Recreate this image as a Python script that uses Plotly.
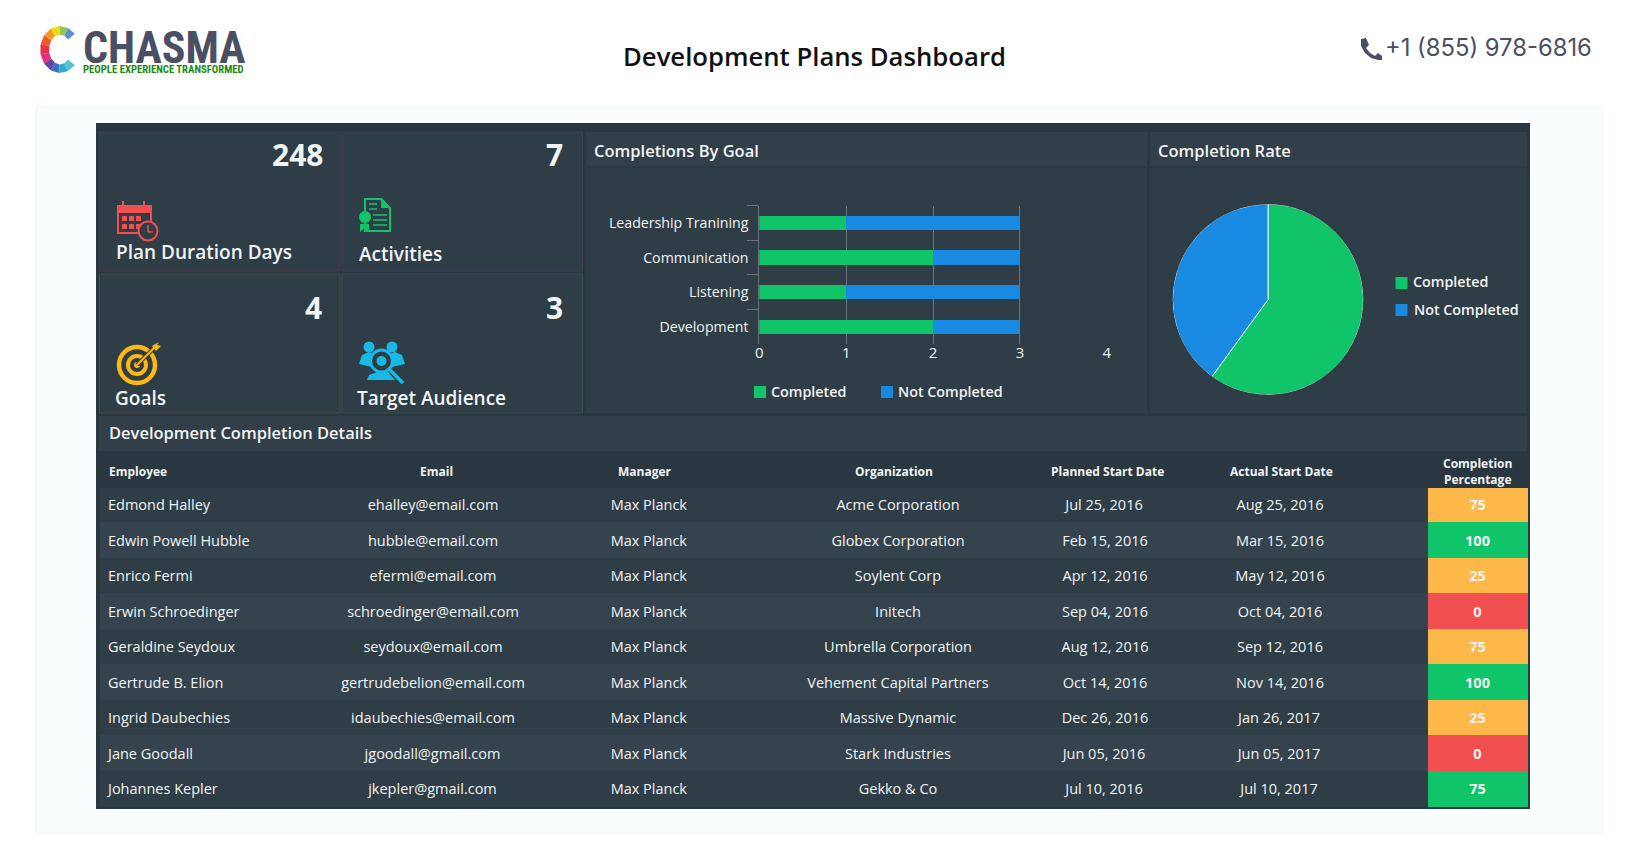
# -*- coding: utf-8 -*-
import math
import plotly.graph_objects as go

W, H = 1627, 860

# ===============================================================
# Data
# ===============================================================

GOALS = ["Leadership Tranining", "Communication", "Listening", "Development"]
GOAL_COMPLETED = [1, 2, 1, 2]
GOAL_NOT_COMPLETED = [2, 1, 2, 1]

RATE_LABELS = ["Completed", "Not Completed"]
RATE_VALUES = [60, 40]

KPI_VALUES = ["248", "7", "4", "3"]
KPI_LABELS = ["Plan Duration Days", "Activities", "Goals", "Target Audience"]

TABLE_HEADERS = ["Employee", "Email", "Manager", "Organization", "Planned Start Date",
                 "Actual Start Date", "Completion<br>Percentage"]
EMPLOYEES = ["Edmond Halley", "Edwin Powell Hubble", "Enrico Fermi", "Erwin Schroedinger",
             "Geraldine Seydoux", "Gertrude B. Elion", "Ingrid Daubechies", "Jane Goodall",
             "Johannes Kepler"]
EMAILS = ["ehalley@email.com", "hubble@email.com", "efermi@email.com", "schroedinger@email.com",
          "seydoux@email.com", "gertrudebelion@email.com", "idaubechies@email.com",
          "jgoodall@gmail.com", "jkepler@gmail.com"]
MANAGERS = ["Max Planck"] * 9
ORGANIZATIONS = ["Acme Corporation", "Globex Corporation", "Soylent Corp", "Initech",
                 "Umbrella Corporation", "Vehement Capital Partners", "Massive Dynamic",
                 "Stark Industries", "Gekko & Co"]
PLANNED_START = ["Jul 25, 2016", "Feb 15, 2016", "Apr 12, 2016", "Sep 04, 2016", "Aug 12, 2016",
                 "Oct 14, 2016", "Dec 26, 2016", "Jun 05, 2016", "Jul 10, 2016"]
ACTUAL_START = ["Aug 25, 2016", "Mar 15, 2016", "May 12, 2016", "Oct 04, 2016", "Sep 12, 2016",
                "Nov 14, 2016", "Jan 26, 2017", "Jun 05, 2017", "Jul 10, 2017"]
COMPLETION_PCT = [75, 100, 25, 0, 75, 100, 25, 0, 75]
PCT_STATUS = ["amber", "green", "amber", "red", "amber", "green", "amber", "red", "green"]

# ===============================================================
# Palette
# ===============================================================

palette = {"outer": "#2a3741", "card": "#2f3d47", "panel": "#323f49", "head": "#2b3740",
           "row_a": "#2f3d46", "row_b": "#34434d", "line": "#29353e", "grid": "#69757d",
           "text": "#f1f4f5", "slate": "#4a4f63", "frame": "#f9fdfe", "frame_line": "#eef2f4",
           "green": "#10c469", "blue": "#188ae2", "red": "#f25050", "amber": "#fdb849",
           "gold": "#fdb813", "cyan": "#19b9e6"}
FONT = "Open Sans"
NARROW = "Roboto Condensed, Noto Sans Condensed, DejaVu Sans Condensed, Roboto, sans-serif"

# ===============================================================
# Helpers (all positions in screen pixels, y downwards)
# ===============================================================

def px(x):
    return x / W


def py(y):
    return 1 - y / H


shapes = []
annotations = []


def rect(x0, y0, x1, y1, fill, line=None, width=1):
    shapes.append(dict(type="rect", xref="paper", yref="paper", layer="below",
                       x0=px(x0), x1=px(x1), y0=py(y0), y1=py(y1), fillcolor=fill,
                       line=dict(color=line or fill, width=width if line else 0)))


def circle(cx, cy, r, fill, line=None, width=1, layer="below"):
    shapes.append(dict(type="circle", xref="paper", yref="paper", layer=layer,
                       x0=px(cx - r), x1=px(cx + r), y0=py(cy - r), y1=py(cy + r), fillcolor=fill,
                       line=dict(color=line or fill, width=width if line else 0)))


def seg(x0, y0, x1, y1, color, width=2):
    shapes.append(dict(type="line", xref="paper", yref="paper", layer="below",
                       x0=px(x0), x1=px(x1), y0=py(y0), y1=py(y1), line=dict(color=color, width=width)))


def poly(points, fill):
    path = "M" + " L".join(f"{px(x):.5f},{py(y):.5f}" for x, y in points) + " Z"
    shapes.append(dict(type="path", xref="paper", yref="paper", layer="below", path=path,
                       fillcolor=fill, line=dict(width=0)))


def label(x, y, text, size, color=None, anchor="left", weight=400, family=FONT, align="center"):
    annotations.append(dict(xref="paper", yref="paper", x=px(x), y=py(y), text=text, showarrow=False,
                            xanchor=anchor, yanchor="middle", borderpad=0, borderwidth=0, align=align,
                            font=dict(family=family, size=size, color=color or palette["text"], weight=weight)))


def legend_item(x, y, text, color, text_x):
    rect(x, y - 6, x + 12, y + 6, color)
    label(text_x, y - 1, text, 14.3, weight=600)


# ===============================================================
# Page furniture: frame, panels, header
# ===============================================================

rect(36.5, 107, 1602, 833, palette["frame"], palette["frame_line"], 1)
rect(96, 123, 1530, 809, palette["outer"])

for x0, y0, x1, y1, edge in [(99.5, 132, 340, 271, "#4a3a48"), (342, 132, 582.5, 271, "#3f3f5a"),
                             (99.5, 274, 340, 413, "#4c4a3e"), (342, 274, 582.5, 413, "#35514c")]:
    rect(x0, y0, x1, y1, palette["card"], edge, 1)

rect(586, 132, 1147, 413, palette["card"])
rect(586, 132, 1147, 167, palette["panel"])
seg(586, 167, 1147, 167, palette["line"], 1)
rect(1150, 132, 1527, 413, palette["card"])
rect(1150, 132, 1527, 167, palette["panel"])
seg(1150, 167, 1527, 167, palette["line"], 1)
rect(99, 416, 1527, 451, palette["panel"])

label(623, 57, "Development Plans Dashboard", 25.7, "#111111", weight=600)
label(1385, 47.5, "+1 (855) 978-6816", 23.8, palette["slate"], family="Inter")
label(594, 150.5, "Completions By Goal", 16.5, weight=600)
label(1158, 150.5, "Completion Rate", 16.5, weight=600)
label(109, 433, "Development Completion Details", 16.5, weight=600)

# table headers sit on the empty header row of the table trace, the cell padding there is fixed
for text, hx in zip(TABLE_HEADERS[1:], [436, 645, 894.5, 1107, 1281, 1477]):
    label(hx, 471 if "<br>" not in text else 471.5, f"<b>{text}</b>", 12, anchor="center")
label(109, 471, f"<b>{TABLE_HEADERS[0]}</b>", 12)

# phone glyph
poly([(1361, 39), (1366, 38), (1369, 45), (1366, 48), (1370, 53), (1375, 56), (1378, 53), (1382, 56),
      (1382, 60), (1378, 60), (1371, 58), (1365, 53), (1361, 46)], palette["slate"])

# logo: rainbow ring with the wordmark next to it
LOGO_COLORS = ["#5b8fd6", "#8fc951", "#f5d90a", "#f59a23", "#ee5a2b", "#e3344b", "#e52e7f",
               "#6a3fb0", "#3f6fc0", "#2fa9c9", "#56c2c9"]
steps = len(LOGO_COLORS)
for i, colour in enumerate(LOGO_COLORS):
    a0 = math.radians(42 + i * (276 / steps))
    a1 = math.radians(42 + (i + 1) * (276 / steps))
    poly([(60 + 20 * math.cos(a0), 49.5 - 23.5 * math.sin(a0)),
          (60 + 20 * math.cos(a1), 49.5 - 23.5 * math.sin(a1)),
          (60 + 11 * math.cos(a1), 49.5 - 15 * math.sin(a1)),
          (60 + 11 * math.cos(a0), 49.5 - 15 * math.sin(a0))], colour)
# one text block: the small base size sets the tight gap between the two lines
label(83, 49,
      f'<span style="font-size:44px;color:{palette["slate"]}">CHASMA</span><br>'
      '<span style="font-size:10.7px;color:#1d8a12">PEOPLE EXPERIENCE TRANSFORMED</span>',
      8, weight=700, family=NARROW, align="left")

# ===============================================================
# KPI cards
# ===============================================================

for text, rx, vy in zip(KPI_VALUES, [323, 563, 322, 563], [154.5, 154.5, 308, 308]):
    label(rx, vy, text, 30, anchor="right", weight=700)
for text, lx, ly in zip(KPI_LABELS, [116, 359, 115, 357], [252, 254, 398, 398]):
    label(lx, ly, text, 19, weight=600)

# calendar icon
c = palette["red"]
rect(118, 206, 151, 233, palette["card"], c, 2)
rect(118, 205, 151, 213, c)
seg(123, 201, 123, 208, c, 2)
seg(144, 201, 144, 208, c, 2)
for gx in (122, 129, 136):
    for gy in (216, 224):
        rect(gx, gy, gx + 5, gy + 5, c)
circle(148, 231, 9.5, palette["card"], c, 2)
seg(148, 225, 148, 232, c, 1.5)
seg(148, 232, 153, 232, c, 1.5)

# document icon
c = palette["green"]
poly([(364, 198), (382, 198), (391, 208), (391, 232), (364, 232)], c)
poly([(366, 200), (380, 200), (389, 209), (389, 230), (366, 230)], palette["card"])
poly([(381, 198), (391, 208), (381, 208)], c)
for ly0, x0, x1 in [(204, 369, 377), (209, 369, 377), (215, 373, 387), (220, 373, 387), (225, 373, 387)]:
    seg(x0, ly0, x1, ly0, c, 1.5)
circle(365, 217, 6, c)
poly([(360, 224), (369, 224), (369, 232), (364.5, 228), (360, 232)], c)

# target icon
c = palette["gold"]
circle(137, 365, 18, palette["card"], c, 4.5)
circle(137, 365, 9, palette["card"], c, 4)
circle(137, 365, 3, c)
seg(137, 365, 155, 347, palette["card"], 4)
seg(137, 365, 155, 347, c, 2)
poly([(152, 346), (159, 342), (157, 345), (161, 346), (156, 351)], c)

# people + magnifier icon
c = palette["cyan"]
for hx in (369, 392):
    circle(hx, 347, 5.5, c)
poly([(359, 364), (362, 355), (369, 352), (376, 355), (372, 367)], c)
poly([(405, 364), (402, 355), (395, 352), (388, 355), (392, 367)], c)
poly([(367, 380), (369, 375), (377, 372), (388, 372), (395, 380)], c)
circle(381.5, 361, 11, palette["card"], c, 3)
circle(381.5, 361, 5, c)
seg(389, 369, 403, 383, c, 3.5)

# ===============================================================
# Legends next to the charts
# ===============================================================

legend_item(754, 392, RATE_LABELS[0], palette["green"], 771)
legend_item(881, 392, RATE_LABELS[1], palette["blue"], 898)
legend_item(1395.5, 283, RATE_LABELS[0], palette["green"], 1413)
legend_item(1395.5, 310, RATE_LABELS[1], palette["blue"], 1413.5)

# ===============================================================
# Figure
# ===============================================================

fig = go.Figure()

fig.add_trace(go.Bar(y=GOALS, x=GOAL_COMPLETED, name="Completed", orientation="h", width=0.41,
                     marker=dict(color=palette["green"], line=dict(width=0))))
fig.add_trace(go.Bar(y=GOALS, x=GOAL_NOT_COMPLETED, name="Not Completed", orientation="h", width=0.41,
                     marker=dict(color=palette["blue"], line=dict(width=0))))

fig.add_trace(go.Pie(labels=RATE_LABELS, values=RATE_VALUES, sort=False, direction="clockwise", rotation=0,
                     textinfo="none", domain=dict(x=[px(1172.5), px(1363.5)], y=[py(395), py(204)]),
                     marker=dict(colors=[palette["green"], palette["blue"]],
                                 line=dict(color="#e6f0f2", width=1))))
# hides the slice outline along the outer rim of the pie
circle(1268, 299.5, 96, "rgba(0,0,0,0)", palette["card"], 1.5, layer="above")

body_fill = [palette["row_a"] if i % 2 == 0 else palette["row_b"] for i in range(len(EMPLOYEES))]
column_fills = [body_fill] * 7 + [[palette[s] for s in PCT_STATUS]]
spans = lambda items: [f"<span>{v}</span>" for v in items]  # markup makes plotly centre the cell text
fig.add_trace(go.Table(
    domain=dict(x=[px(100), px(1527)], y=[py(808), py(451)]),
    columnwidth=[230, 206, 226, 272, 142, 208, 44, 99],
    header=dict(values=[""] * 8, height=36,
                fill_color=palette["head"], line=dict(color=palette["head"], width=1),
                font=dict(family=FONT, size=12, color=palette["text"])),
    cells=dict(values=[spans(EMPLOYEES), spans(EMAILS), spans(MANAGERS), spans(ORGANIZATIONS),
                       spans(PLANNED_START), spans(ACTUAL_START),
                       [""] * len(EMPLOYEES), [f"<b>{v}</b>" for v in COMPLETION_PCT]],
               align=["left"] + ["center"] * 7, height=35.5,
               line=dict(color=column_fills, width=1),
               fill_color=column_fills,
               font=dict(family=FONT, size=14.5, color=palette["text"]))))

fig.update_layout(
    template="none",
    width=W, height=H, margin=dict(l=0, r=0, t=0, b=0), autosize=False,
    paper_bgcolor="#ffffff", plot_bgcolor="rgba(0,0,0,0)",
    barmode="stack", showlegend=False, shapes=shapes, annotations=annotations,
    font=dict(family=FONT, color=palette["text"]),
    xaxis=dict(domain=[px(759.3), px(1106.8)], range=[0, 4], dtick=1, showgrid=True,
               gridcolor=palette["grid"], gridwidth=1, zeroline=False, showline=False,
               ticklabelstandoff=-2, tickfont=dict(size=15, color=palette["text"]), ticks=""),
    yaxis=dict(domain=[py(344), py(205.7)], autorange="reversed", showgrid=False, showline=True,
               linecolor=palette["grid"], linewidth=1, ticks="outside", tickson="boundaries", ticklen=11,
               tickcolor=palette["grid"], ticklabelstandoff=7, zeroline=False,
               tickfont=dict(size=14.2, color=palette["text"])),
)

fig.write_html("out.html", config={"displayModeBar": False},
               post_script="document.body.style.margin='0';document.body.style.overflow='hidden';")
